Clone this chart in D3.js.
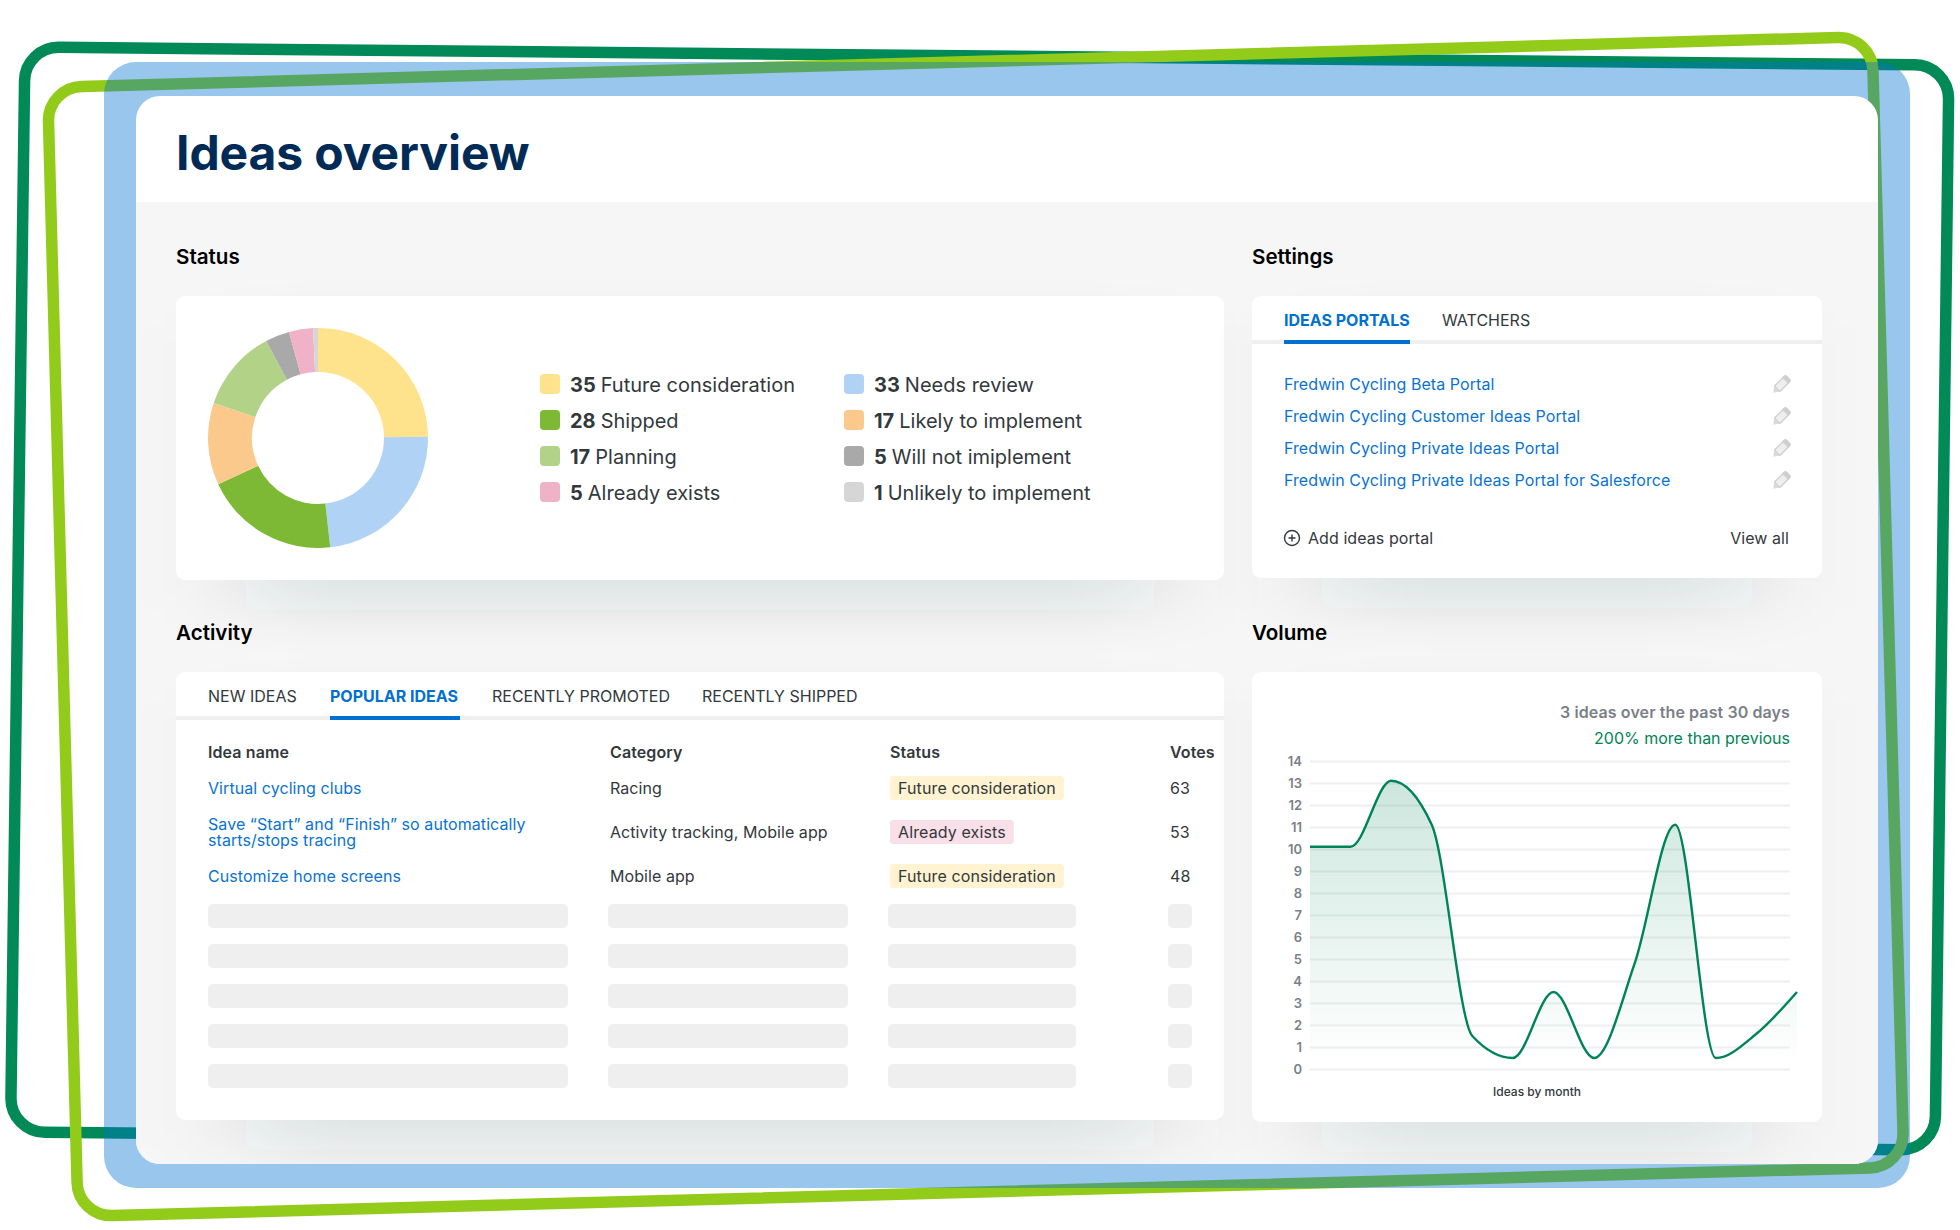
<!DOCTYPE html>
<html>
<head>
<meta charset="utf-8">
<script src="https://cdn.jsdelivr.net/npm/d3@7"></script>
<style>
  html, body { margin: 0; padding: 0; background: #fff; }
  svg { display: block; }
  text { font-family: Inter, "Noto Sans", sans-serif; }
</style>
</head>
<body>
<div id="chart"></div>
<script>
// status donut
var statusNames = ["Future consideration", "Needs review", "Shipped", "Likely to implement", "Planning", "Will not imiplement", "Already exists", "Unlikely to implement"];
var statusCounts = [35, 33, 28, 17, 17, 5, 5, 1];
var statusColors = ["#ffe28c", "#afd2f5", "#7db935", "#fbc98b", "#b1d287", "#a9a9a9", "#f0b2c7", "#d6d6d6"];
// order the legend reads in, column by column
var legendLeft = [0, 2, 4, 6];
var legendRight = [1, 3, 5, 7];

// tabs
var settingsTabs = ["IDEAS PORTALS", "WATCHERS"];
var activityTabs = ["NEW IDEAS", "POPULAR IDEAS", "RECENTLY PROMOTED", "RECENTLY SHIPPED"];
var portals = ["Fredwin Cycling Beta Portal", "Fredwin Cycling Customer Ideas Portal", "Fredwin Cycling Private Ideas Portal", "Fredwin Cycling Private Ideas Portal for Salesforce"];

// activity table
var tableHeads = ["Idea name", "Category", "Status", "Votes"];
var ideaNames = [["Virtual cycling clubs"], ["Save “Start” and “Finish” so automatically", "starts/stops tracing"], ["Customize home screens"]];
var ideaCategories = ["Racing", "Activity tracking, Mobile app", "Mobile app"];
var ideaStatus = ["Future consideration", "Already exists", "Future consideration"];
var ideaVotes = [63, 53, 48];
var placeholderRows = [0, 1, 2, 3, 4];

// volume chart, one value per month
var ideasByMonth = [10.1, 10.1, 13.1, 11.1, 1.5, 0.5, 3.5, 0.5, 4.8, 11.1, 0.5, 1.6, 3.5];
var volumeTicks = d3.range(0, 15);

// decorative frames behind the page, corners clockwise from top left
var darkFrame = [[25, 47], [1949, 65], [1935, 1150], [10.5, 1132]];
var limeFrame = [[47.6, 87.5], [1872, 36.5], [1904, 1167], [78, 1216.5]];

var INK = "#33383d", BLUE = "#0a73d1", TAB_BLUE = "#0070d2", GREEN = "#018455", LINE = "#efefef";

var svg = d3.select("#chart").append("svg").attr("width", 1960).attr("height", 1230);
var defs = svg.append("defs");

var shadow = defs.append("filter").attr("id", "soft")
    .attr("x", "-30%").attr("y", "-40%").attr("width", "160%").attr("height", "180%");
shadow.append("feGaussianBlur").attr("stdDeviation", "55 24");

defs.append("clipPath").attr("id", "pageClip").append("rect")
    .attr("x", 136).attr("y", 96).attr("width", 1742).attr("height", 1068).attr("rx", 24);

function roundedFrame(corners, r) {
    var p = d3.path(), n = corners.length;
    var a = corners[n - 1], b = corners[0];
    p.moveTo((a[0] + b[0]) / 2, (a[1] + b[1]) / 2);
    for (var i = 0; i < n; i++) {
        var c = corners[i], d = corners[(i + 1) % n];
        p.arcTo(c[0], c[1], d[0], d[1], r);
    }
    p.closePath();
    return p.toString();
}

svg.append("path").attr("d", roundedFrame(darkFrame, 34))
    .attr("fill", "none").attr("stroke", "#018a57").attr("stroke-width", 11.5);
svg.append("path").attr("d", roundedFrame(limeFrame, 34))
    .attr("fill", "none").attr("stroke", "#92cb1a").attr("stroke-width", 11.5);

// blue sheet is see-through, the frames tint it where they cross
svg.append("rect").attr("x", 104).attr("y", 62).attr("width", 1806).attr("height", 1126).attr("rx", 32)
    .attr("fill", "#0070d2").attr("fill-opacity", 0.4);

// the page
svg.append("rect").attr("x", 136).attr("y", 96).attr("width", 1742).attr("height", 1068).attr("rx", 24).attr("fill", "#fff");
var page = svg.append("g").attr("clip-path", "url(#pageClip)");
page.append("rect").attr("x", 136).attr("y", 202).attr("width", 1742).attr("height", 962).attr("fill", "#f6f6f6");

function label(parent, x, y, str, size, weight, color, anchor, spacing) {
    return parent.append("text").attr("x", x).attr("y", y).text(str)
        .attr("font-size", size).attr("font-weight", weight || 400)
        .attr("letter-spacing", spacing === undefined ? 0.07 : spacing)
        .attr("fill", color || INK).attr("text-anchor", anchor || "start");
}

// shadow sits inset from the card so it only shows below it
function card(x, y, w, h) {
    page.append("rect").attr("x", x + 70).attr("y", y + 30).attr("width", w - 140).attr("height", h).attr("rx", 9)
        .attr("fill", "#1a2a30").attr("fill-opacity", 0.1).attr("filter", "url(#soft)");
    page.append("rect").attr("x", x).attr("y", y).attr("width", w).attr("height", h).attr("rx", 9)
        .attr("fill", "#fff");
}

label(page, 176, 170, "Ideas overview", 48, 700, "#012b57", "start", -0.1);
label(page, 176, 264, "Status", 20.6, 600, "#000", "start", 0);
label(page, 1252, 264, "Settings", 20.6, 600, "#000", "start", 0);
label(page, 176, 640, "Activity", 20.6, 600, "#000", "start", 0);
label(page, 1252, 640, "Volume", 20.6, 600, "#000", "start", 0);

card(176, 296, 1048, 284);
card(1252, 296, 570, 282);
card(176, 672, 1048, 448);
card(1252, 672, 570, 450);

// donut
var pie = d3.pie().sort(null).value(function(d) { return d; });
var arc = d3.arc().innerRadius(66).outerRadius(110);
page.append("g").attr("transform", "translate(318,438)")
    .selectAll("path").data(pie(statusCounts)).enter().append("path")
    .attr("d", arc)
    .attr("fill", function(d, i) { return statusColors[i]; });

function legendColumn(items, swatchX, textX) {
    var rowY = d3.scaleBand().domain(d3.range(items.length)).range([374, 518]);
    items.forEach(function(idx, row) {
        var y = rowY(row);
        page.append("rect").attr("x", swatchX).attr("y", y).attr("width", 20).attr("height", 20).attr("rx", 4)
            .attr("fill", statusColors[idx]);
        var t = label(page, textX, y + 18, "", 20, 400, INK, "start", 0);
        t.append("tspan").attr("font-weight", 700).text(statusCounts[idx]);
        t.append("tspan").attr("dx", -0.6).text(" " + statusNames[idx]);
    });
}
legendColumn(legendLeft, 540, 570);
legendColumn(legendRight, 844, 874);

// tab strips
function tabStrip(x, w, lineY, baseY, tabs, xs, active, activeW) {
    page.append("rect").attr("x", x).attr("y", lineY).attr("width", w).attr("height", 4).attr("fill", LINE);
    tabs.forEach(function(t, i) {
        label(page, xs[i], baseY, t, 16, i === active ? 700 : 400, i === active ? TAB_BLUE : INK, "start", 0);
    });
    page.append("rect").attr("x", xs[active]).attr("y", lineY).attr("width", activeW).attr("height", 4).attr("fill", TAB_BLUE);
}
tabStrip(1252, 570, 340, 326, settingsTabs, [1284, 1442], 0, 126);
tabStrip(176, 1048, 716, 702, activityTabs, [208, 330, 492, 702], 1, 130);

// settings list
portals.forEach(function(name, i) {
    var y = 390 + i * 32;
    label(page, 1284, y, name, 16, 400, BLUE);
    var pen = page.append("g").attr("transform", "translate(1781," + (y - 5) + ") rotate(45)");
    pen.append("rect").attr("x", -3.8).attr("y", -10).attr("width", 7.6).attr("height", 15.5).attr("rx", 1.2)
        .attr("fill", "#eee").attr("stroke", "#cfcfcf").attr("stroke-width", 1.4);
    pen.append("path").attr("d", "M-3.8,5.5L0,11L3.8,5.5Z").attr("fill", "#d8d8d8");
    pen.append("rect").attr("x", -3.8).attr("y", -10).attr("width", 7.6).attr("height", 4).attr("fill", "#cfcfcf");
});
var addIcon = page.append("g").attr("transform", "translate(1292,538)");
addIcon.append("circle").attr("r", 7.5).attr("fill", "none").attr("stroke", INK).attr("stroke-width", 1.4);
addIcon.append("path").attr("d", "M-3.5,0H3.5M0,-3.5V3.5").attr("stroke", INK).attr("stroke-width", 1.4);
label(page, 1308, 544, "Add ideas portal", 16);
label(page, 1789, 544, "View all", 16, 400, INK, "end");

// activity table
var colX = [208, 610, 890, 1170];
tableHeads.forEach(function(h, i) {
    label(page, colX[i], 758, h, 16, 600, INK, "start", 0.1);
});
var nameBase = [[794], [830, 846], [882]];
var rowBase = [794, 838, 882];
var badgeFill = { "Future consideration": "#fff3d1", "Already exists": "#f9dfe8" };
ideaNames.forEach(function(lines, i) {
    lines.forEach(function(line, j) {
        label(page, 208, nameBase[i][j], line, 16, 400, BLUE);
    });
    label(page, 610, rowBase[i], ideaCategories[i], 16);
    var badgeText = label(page, 898, rowBase[i], ideaStatus[i], 16, 400, INK, "start", 0.12);
    var w = badgeText.node().getComputedTextLength();
    page.insert("rect", function() { return badgeText.node(); })
        .attr("x", 890).attr("y", rowBase[i] - 18).attr("width", w + 16).attr("height", 24).attr("rx", 3)
        .attr("fill", badgeFill[ideaStatus[i]]);
    label(page, 1170, rowBase[i], ideaVotes[i], 16);
});

var skelCols = [[208, 360], [608, 240], [888, 188], [1168, 24]];
placeholderRows.forEach(function(r) {
    skelCols.forEach(function(c) {
        page.append("rect").attr("x", c[0]).attr("y", 904 + r * 40).attr("width", c[1]).attr("height", 24).attr("rx", 5)
            .attr("fill", LINE);
    });
});

// volume chart
label(page, 1790, 718, "3 ideas over the past 30 days", 16, 600, "#7a7f87", "end", 0.1);
label(page, 1790, 744, "200% more than previous", 16, 400, GREEN, "end", 0);
label(page, 1537, 1096, "Ideas by month", 12, 500, INK, "middle", 0);

var x = d3.scaleLinear().domain([0, ideasByMonth.length - 1]).range([1310, 1797]);
var y = d3.scaleLinear().domain([0, 14]).range([1069, 761]);

var yAxis = d3.axisLeft(y).tickValues(volumeTicks).tickSize(-480).tickPadding(8).tickFormat(d3.format("d"));
var axisG = page.append("g").attr("transform", "translate(1310,0)").call(yAxis);
axisG.select(".domain").remove();
axisG.selectAll("line").attr("stroke", LINE).attr("stroke-width", 2);
axisG.selectAll("text").attr("font-size", 13).attr("font-weight", 600).attr("fill", "#7a7f87")
    .attr("font-family", "Inter, sans-serif");

var grad = defs.append("linearGradient").attr("id", "areaFade")
    .attr("gradientUnits", "userSpaceOnUse")
    .attr("x1", 0).attr("x2", 0).attr("y1", y(13.1)).attr("y2", y(0.2));
grad.append("stop").attr("offset", 0).attr("stop-color", GREEN).attr("stop-opacity", 0.2);
grad.append("stop").attr("offset", 1).attr("stop-color", GREEN).attr("stop-opacity", 0);

var area = d3.area()
    .x(function(d, i) { return x(i); })
    .y0(y(0))
    .y1(function(d) { return y(d); })
    .curve(d3.curveMonotoneX);
var line = d3.line()
    .x(function(d, i) { return x(i); })
    .y(function(d) { return y(d); })
    .curve(d3.curveMonotoneX);

page.append("path").datum(ideasByMonth).attr("d", area).attr("fill", "url(#areaFade)");
page.append("path").datum(ideasByMonth).attr("d", line)
    .attr("fill", "none").attr("stroke", GREEN).attr("stroke-width", 2.4);
</script>
</body>
</html>
